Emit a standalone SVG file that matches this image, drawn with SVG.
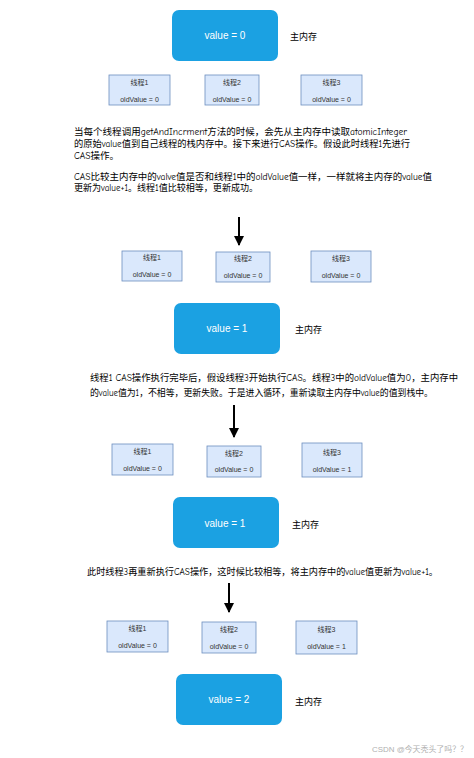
<svg xmlns="http://www.w3.org/2000/svg" width="474" height="758" viewBox="0 0 474 758">
<defs>
<style>
.mem{fill:#1ba1e2;}
.memt{fill:#ffffff;font-family:"Liberation Sans","Noto Sans CJK SC",sans-serif;font-size:10px;text-anchor:middle;dominant-baseline:central;}
.lbl{fill:#000;font-family:"Liberation Sans","Noto Sans CJK SC",sans-serif;font-size:9px;dominant-baseline:central;}
.th{fill:#dae8fc;stroke:#6c8ebf;stroke-width:0.8;}
.tht{fill:#333;font-family:"Liberation Sans","Noto Sans CJK SC",sans-serif;font-size:7px;text-anchor:middle;dominant-baseline:central;}
.para{fill:#000;font-family:"Comic Neue","Liberation Sans","Noto Sans CJK SC",sans-serif;font-size:9.5px;dominant-baseline:central;}
.arr{stroke:#000;stroke-width:2;fill:none;}
.wm{fill:#b0b0b0;font-family:"Liberation Sans","Noto Sans CJK SC",sans-serif;font-size:7.5px;dominant-baseline:central;}
</style>
<marker id="ah" viewBox="0 0 10 10" refX="9" refY="5" markerWidth="5" markerHeight="5" orient="auto" markerUnits="strokeWidth">
<path d="M0,0 L10,5 L0,10 Z" fill="#000"/>
</marker>
</defs>
<rect width="474" height="758" fill="#ffffff"/>

<!-- Step 1 -->
<g id="mem1"><rect class="mem" x="172" y="10" width="106" height="51" rx="7"/><text class="memt" x="225" y="35">value = 0</text></g>
<g id="memlbl1"><text class="lbl" x="290" y="37">主内存</text></g>
<g id="t1a"><rect class="th" x="109" y="75" width="61" height="30"/><text class="tht" x="139.5" y="82">线程1</text><text class="tht" x="139.5" y="99">oldValue = 0</text></g>
<g id="t2a"><rect class="th" x="205" y="75" width="54" height="30"/><text class="tht" x="232" y="82">线程2</text><text class="tht" x="232" y="99">oldValue = 0</text></g>
<g id="t3a"><rect class="th" x="301" y="75" width="61" height="30"/><text class="tht" x="331.5" y="82">线程3</text><text class="tht" x="331.5" y="99">oldValue = 0</text></g>

<g id="para1">
<text class="para" x="74" y="131" textLength="333" lengthAdjust="spacingAndGlyphs">当每个线程调用getAndIncrment方法的时候，会先从主内存中读取atomicInteger</text>
<text class="para" x="74" y="143.5" textLength="336" lengthAdjust="spacingAndGlyphs">的原始value值到自己线程的栈内存中。接下来进行CAS操作。假设此时线程1先进行</text>
<text class="para" x="74" y="155.5">CAS操作。</text>
<text class="para" x="74" y="176" textLength="358" lengthAdjust="spacingAndGlyphs">CAS比较主内存中的valve值是否和线程1中的oldValue值一样，一样就将主内存的value值</text>
<text class="para" x="74" y="187.5" textLength="184" lengthAdjust="spacingAndGlyphs">更新为value+1。线程1值比较相等，更新成功。</text>
</g>

<!-- Step 2 -->
<g id="t1b"><rect class="th" x="122" y="251" width="60" height="30"/><text class="tht" x="152" y="257.5">线程1</text><text class="tht" x="152" y="274">oldValue = 0</text></g>
<g id="t2b"><rect class="th" x="216" y="252" width="54" height="30"/><text class="tht" x="243" y="258.5">线程2</text><text class="tht" x="243" y="275">oldValue = 0</text></g>
<g id="t3b"><rect class="th" x="311" y="251" width="60" height="31"/><text class="tht" x="341" y="258.5">线程3</text><text class="tht" x="341" y="275">oldValue = 0</text></g>
<g id="mem2"><rect class="mem" x="174" y="303" width="106" height="51" rx="7"/><text class="memt" x="227" y="328">value = 1</text></g>
<g id="memlbl2"><text class="lbl" x="295" y="330">主内存</text></g>

<g id="para2">
<text class="para" x="90" y="377" textLength="368" lengthAdjust="spacingAndGlyphs">线程1 CAS操作执行完毕后，假设线程3开始执行CAS。线程3中的oldValue值为0，主内存中</text>
<text class="para" x="90" y="392" textLength="343" lengthAdjust="spacingAndGlyphs">的value值为1，不相等，更新失败。于是进入循环，重新读取主内存中value的值到栈中。</text>
</g>

<!-- Step 3 -->
<g id="t1c"><rect class="th" x="112" y="444" width="61" height="31"/><text class="tht" x="142.5" y="451">线程1</text><text class="tht" x="142.5" y="468">oldValue = 0</text></g>
<g id="t2c"><rect class="th" x="207" y="446" width="54" height="31"/><text class="tht" x="234" y="453">线程2</text><text class="tht" x="234" y="469.5">oldValue = 0</text></g>
<g id="t3c"><rect class="th" x="302" y="443" width="60" height="34"/><text class="tht" x="332" y="452">线程3</text><text class="tht" x="332" y="469.5">oldValue = 1</text></g>
<g id="mem3"><rect class="mem" x="173" y="497" width="106" height="51" rx="7"/><text class="memt" x="225" y="523">value = 1</text></g>
<g id="memlbl3"><text class="lbl" x="292" y="525">主内存</text></g>

<g id="para3">
<text class="para" x="87" y="571" textLength="351" lengthAdjust="spacingAndGlyphs">此时线程3再重新执行CAS操作，这时候比较相等，将主内存中的value值更新为value+1。</text>
</g>

<!-- Step 4 -->
<g id="t1d"><rect class="th" x="107" y="621" width="61" height="31"/><text class="tht" x="137.5" y="628">线程1</text><text class="tht" x="137.5" y="645">oldValue = 0</text></g>
<g id="t2d"><rect class="th" x="202" y="622" width="54" height="31"/><text class="tht" x="229" y="629">线程2</text><text class="tht" x="229" y="646">oldValue = 0</text></g>
<g id="t3d"><rect class="th" x="296" y="621" width="61" height="33"/><text class="tht" x="326.5" y="629">线程3</text><text class="tht" x="326.5" y="646">oldValue = 1</text></g>
<g id="mem4"><rect class="mem" x="176" y="674" width="106" height="51" rx="7"/><text class="memt" x="229" y="699">value = 2</text></g>
<g id="memlbl4"><text class="lbl" x="295" y="702">主内存</text></g>

<g id="connectors">
<line class="arr" x1="239" y1="217" x2="239" y2="245" marker-end="url(#ah)"/>
<line class="arr" x1="234" y1="405" x2="234" y2="437" marker-end="url(#ah)"/>
<line class="arr" x1="229" y1="583" x2="229" y2="612" marker-end="url(#ah)"/>
</g>

<text class="wm" x="372" y="749" textLength="96" lengthAdjust="spacingAndGlyphs">CSDN @今天秃头了吗？？</text>
</svg>
